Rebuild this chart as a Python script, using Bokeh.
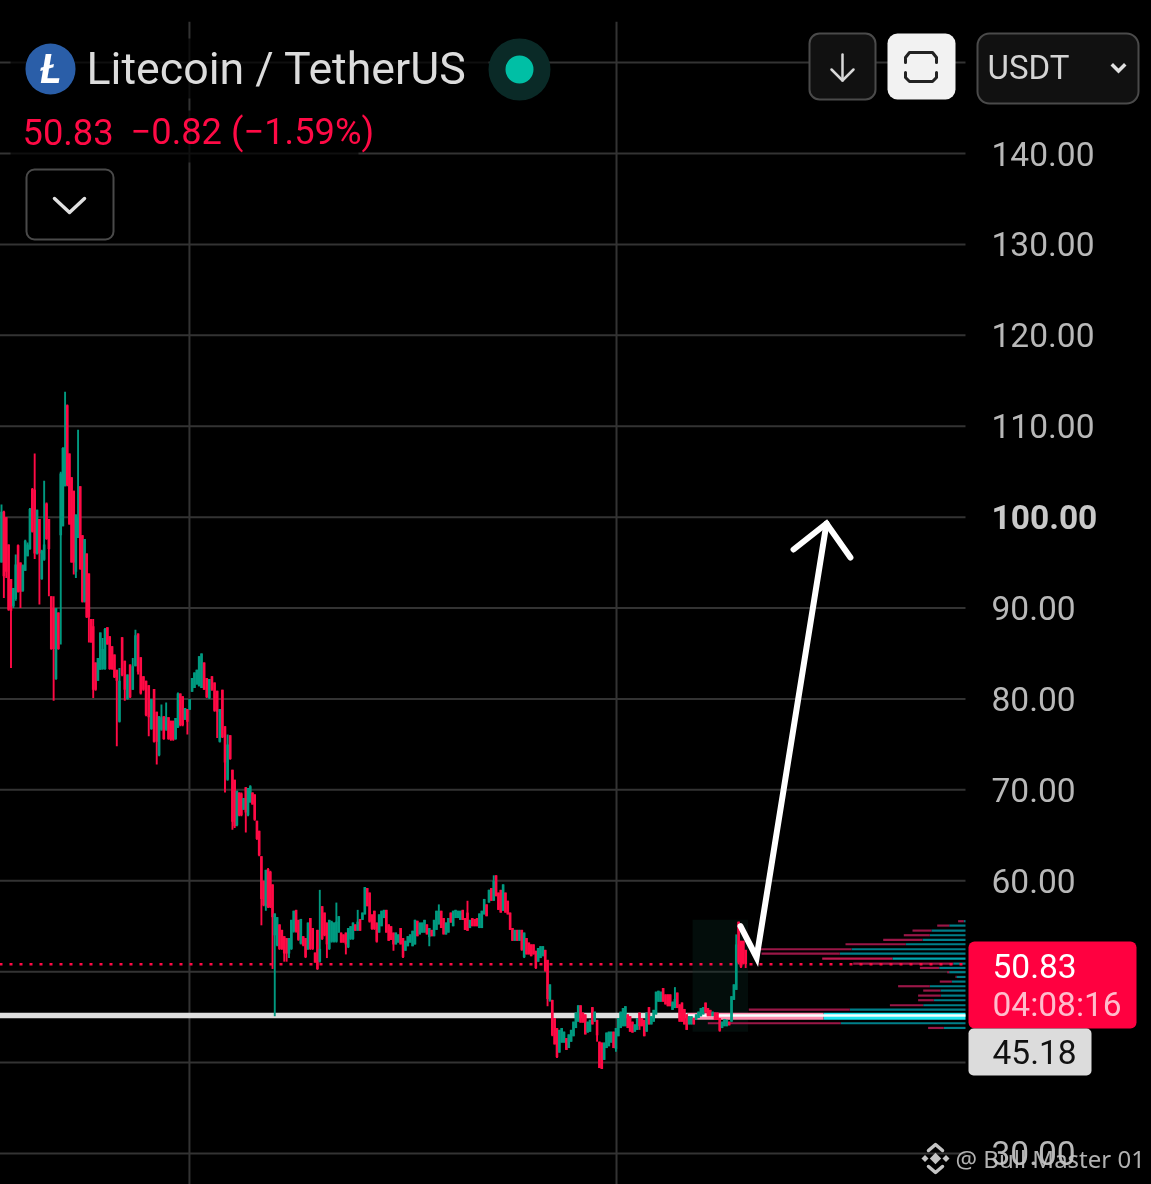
import numpy as np
from bokeh.core.properties import value
from bokeh.embed import file_html
from bokeh.resources import INLINE
from bokeh.plotting import figure
from bokeh.models import Range1d, Label, BoxAnnotation, PolyAnnotation

W, H = 1154, 1187

# ---- OHLC values (USDT) ----
high = [
101.4,100.7,100.0,97.0,93.2,92.2,95.9,97.0,95.0,94.8,
97.5,97.2,101.0,103.2,107.0,100.8,99.8,96.4,104.0,101.6,
99.8,91.3,91.3,90.0,89.5,105.0,107.7,113.8,112.4,107.0,
104.4,102.9,100.3,109.6,103.4,98.0,97.6,96.0,93.8,88.8,
88.8,84.0,84.5,87.3,86.7,87.8,87.9,86.9,85.8,84.9,
83.2,83.4,86.8,84.2,82.7,83.8,84.5,87.6,87.2,84.6,
82.5,82.0,81.5,80.0,81.1,78.6,78.1,79.4,78.1,79.6,
78.0,77.6,77.6,77.9,80.7,80.6,80.3,79.0,78.9,80.0,
82.3,82.9,83.2,84.7,85.0,84.0,82.3,82.2,82.5,81.8,
80.9,78.9,81.0,77.0,76.1,76.0,72.2,71.1,69.9,69.7,
69.7,69.1,70.3,70.2,70.5,69.7,69.5,66.6,65.5,62.7,
60.0,61.2,61.4,61.1,59.6,56.4,56.0,55.2,54.6,53.9,
53.7,53.7,55.7,56.7,56.8,55.7,55.8,53.9,53.7,55.4,
55.9,54.8,52.1,54.6,59.0,57.2,56.5,55.4,55.7,55.6,
55.4,57.6,56.1,54.3,54.1,54.3,54.8,55.0,55.4,55.2,
56.8,55.8,56.5,59.3,59.2,58.7,56.3,56.7,55.4,56.3,
56.7,56.8,56.8,55.2,55.0,54.3,54.3,54.1,54.8,53.7,
53.4,53.9,54.1,54.5,55.7,55.6,55.4,55.4,55.7,55.2,
54.8,54.6,55.7,56.7,57.4,56.7,55.9,55.4,55.9,56.5,
56.7,56.8,56.7,56.7,56.8,55.9,57.8,55.7,55.9,55.8,
55.9,56.4,56.7,58.0,57.4,59.0,59.2,60.6,60.6,58.7,
59.0,59.6,58.7,57.8,56.5,54.8,54.6,54.6,54.6,54.6,
54.3,53.7,53.2,53.0,53.0,52.3,52.6,52.8,52.8,52.4,51.3,
48.6,46.9,44.9,43.8,43.6,43.8,43.4,42.7,43.1,43.6,
44.5,45.5,46.3,46.3,45.5,45.3,44.5,44.7,46.1,45.6,
44.7,42.3,42.2,42.2,43.3,43.4,43.4,43.4,43.8,44.9,
45.6,46.0,46.2,45.3,45.1,44.5,44.2,44.9,45.5,44.9,
44.7,45.5,46.1,45.1,45.8,47.8,47.9,47.8,48.2,47.5,
47.5,47.5,46.7,48.3,47.7,46.4,46.6,45.9,45.3,45.1,
45.1,44.9,45.3,45.6,46.0,46.1,46.6,46.0,45.8,45.6,
45.5,45.5,44.9,44.5,44.8,44.7,44.5,47.3,48.6,54.1,55.5,53.4,53.4,52.4]
low = [
95.0,91.1,93.3,89.7,83.4,90.0,90.8,91.7,90.0,91.8,
94.1,95.7,96.4,98.3,95.4,95.9,90.4,93.1,95.2,97.5,
91.3,85.4,79.8,82.1,85.4,86.0,99.0,103.4,103.4,99.2,
95.0,93.7,93.3,97.7,94.2,90.6,90.6,88.9,86.2,86.2,
80.1,80.9,82.0,83.2,83.2,83.2,86.0,83.2,83.2,82.3,
74.8,77.4,82.5,79.8,79.9,80.1,81.0,83.6,82.7,80.5,
80.9,78.1,75.9,76.6,75.2,72.8,73.7,76.5,75.5,76.5,
75.5,75.4,75.4,75.5,76.8,77.0,77.0,77.7,76.1,78.8,
80.8,81.2,81.6,81.4,81.2,81.0,80.1,80.0,80.9,78.6,
75.7,75.2,75.7,69.7,71.0,73.3,65.6,65.8,66.0,67.1,
67.1,67.8,65.3,67.1,68.6,68.4,66.6,64.5,62.7,55.1,
57.2,56.7,57.0,57.0,50.3,45.1,52.8,52.4,52.4,51.1,
51.1,51.5,52.4,54.3,54.3,53.4,53.0,52.8,51.5,52.4,
52.4,52.4,51.0,50.2,51.0,53.5,53.9,51.5,52.4,53.2,
53.2,53.2,54.3,53.2,53.2,51.9,52.6,53.5,53.5,54.5,
54.5,54.5,55.7,56.3,57.2,55.4,54.6,54.6,53.2,54.3,
55.0,55.9,54.3,53.4,53.5,52.3,53.0,53.2,53.0,51.5,
52.3,52.8,53.2,52.8,53.0,53.9,54.1,54.3,54.3,54.1,
52.8,53.9,53.9,54.6,55.2,54.8,54.1,54.1,54.3,55.4,
55.0,55.9,55.9,55.7,55.7,54.6,54.5,54.8,55.0,55.0,
55.0,54.8,54.8,56.3,56.1,57.6,57.8,57.8,58.3,56.8,
56.5,56.7,56.5,56.3,54.6,53.4,53.4,53.4,53.4,52.3,
51.5,51.9,51.9,51.7,51.9,50.3,51.1,51.5,51.7,50.0,46.2,
46.7,42.9,42.0,40.5,41.1,42.2,42.2,41.4,41.6,42.3,
42.9,43.8,44.5,44.4,44.4,43.1,43.3,43.4,44.2,44.5,
42.3,39.4,39.3,40.3,41.6,41.8,42.2,41.6,41.2,42.9,
43.8,44.0,44.0,43.8,43.4,43.3,43.4,43.6,43.6,44.0,
42.9,43.4,44.2,44.2,44.5,45.3,46.7,46.7,46.7,46.4,
46.2,46.2,45.8,46.0,46.0,44.5,44.5,44.2,43.6,44.2,
44.2,44.2,44.7,44.9,45.1,45.3,45.5,45.1,45.1,45.1,
44.7,44.7,43.4,43.8,44.0,44.0,44.1,44.5,46.9,48.0,50.8,50.4,50.8,50.4]
open_ = [
95.0,100.6,100.0,97.0,93.2,90.2,91.0,96.9,95.0,91.9,
94.1,95.7,96.5,103.1,103.0,96.0,99.8,93.2,95.3,101.5,
99.8,91.3,90.0,82.2,89.5,98.0,99.0,103.4,112.3,107.0,
104.4,102.9,94.0,97.7,103.4,98.0,90.7,96.0,93.8,88.8,
88.0,84.0,82.0,83.2,83.3,83.3,87.9,86.9,85.8,84.9,
83.2,77.5,86.8,84.2,80.0,83.8,81.0,83.6,87.2,84.6,
82.5,82.0,81.5,76.7,81.1,78.6,73.8,76.6,78.1,76.6,
78.0,77.6,77.6,75.6,76.9,80.6,80.3,77.7,78.9,78.8,
80.8,81.2,81.6,81.4,81.2,84.0,82.3,80.1,82.5,81.8,
80.9,75.3,81.0,77.0,71.1,76.0,72.2,71.1,66.1,69.7,
69.6,67.8,70.3,67.2,68.6,69.7,69.5,66.6,65.5,62.7,
60.0,57.2,61.3,61.0,59.6,54.0,52.9,55.2,54.6,53.9,
53.7,52.0,52.5,54.4,56.8,55.7,53.1,53.9,53.7,52.5,
55.9,54.8,52.1,54.6,51.1,57.2,56.5,55.4,52.5,53.3,
53.3,53.3,54.3,54.3,54.1,54.3,52.7,53.6,53.6,55.2,
54.5,55.8,55.7,56.3,59.2,58.7,56.3,56.7,55.4,54.3,
55.0,55.9,56.8,55.2,55.0,54.3,53.0,53.2,54.8,53.7,
52.3,52.8,53.2,52.8,53.0,55.6,54.1,54.3,54.3,55.2,
53.8,54.6,53.9,54.6,55.2,56.7,55.9,54.1,54.3,56.5,
55.0,55.9,55.9,55.7,56.8,55.9,56.5,54.8,55.9,55.8,
55.9,54.8,54.8,56.3,57.4,57.6,59.2,57.8,60.6,58.7,
59.0,56.7,58.7,57.8,56.5,54.8,53.4,54.6,53.4,54.6,
51.6,53.7,53.2,53.0,53.0,52.3,51.1,51.5,51.7,52.4,51.3,
46.8,46.9,44.9,43.8,41.1,42.2,42.2,42.7,41.6,42.3,
42.9,43.8,44.5,46.3,45.5,45.3,43.3,43.4,46.1,44.5,
44.7,42.3,42.2,40.3,41.6,41.8,42.2,43.4,41.5,42.9,
43.8,44.0,44.0,45.3,45.1,44.5,43.4,43.6,45.5,44.9,
44.7,43.4,46.1,44.2,44.5,45.3,46.7,46.7,48.2,47.5,
47.5,47.5,45.8,46.0,47.7,46.4,46.6,45.9,45.3,44.2,
44.2,44.9,44.7,44.9,45.1,45.3,46.6,46.0,45.8,45.1,
45.5,45.5,44.9,43.8,44.0,44.0,44.5,44.5,46.9,48.0,55.5,53.4,53.4,52.4]
close = [
100.6,93.5,94.0,89.8,89.7,92.2,94.8,91.8,91.8,94.7,
97.4,97.0,100.9,98.4,96.0,100.8,96.0,96.3,97.0,97.6,
96.5,85.5,85.5,90.0,85.5,104.8,107.6,107.7,103.5,99.2,
95.0,95.0,100.3,100.0,94.3,90.7,97.6,89.0,89.0,86.2,
81.0,81.0,84.5,87.3,85.5,87.7,86.0,83.3,83.3,82.4,
82.0,82.0,82.6,81.0,82.7,80.2,83.6,87.0,83.0,80.6,
81.0,78.2,78.0,80.0,75.3,75.3,78.1,78.0,75.6,78.0,
75.6,75.5,75.5,77.9,80.6,77.1,77.1,79.0,77.5,80.0,
82.3,82.9,83.2,84.7,85.0,81.0,80.2,82.2,81.0,78.7,
78.6,78.9,75.8,73.0,75.0,73.4,66.5,66.0,69.9,67.2,
67.2,69.1,67.5,70.2,70.4,68.4,66.7,64.6,62.8,58.0,
57.3,61.2,57.1,57.1,56.0,56.4,56.0,52.5,52.5,52.0,
52.0,53.7,55.7,56.7,54.4,53.5,55.8,52.9,51.6,55.4,
52.5,52.5,51.0,50.3,52.5,53.6,54.0,53.0,55.7,55.5,
55.4,55.5,56.1,53.2,53.2,53.0,54.8,55.0,55.4,54.5,
55.5,54.5,56.5,59.3,57.2,55.5,54.7,54.7,53.3,56.3,
56.7,56.8,54.3,53.4,53.5,53.0,54.3,54.1,53.0,51.6,
53.4,53.9,54.1,54.5,55.7,53.9,55.4,55.4,55.7,54.1,
54.8,53.9,55.7,56.7,56.7,54.8,54.1,55.4,55.9,55.4,
56.7,56.8,56.7,56.7,55.7,54.6,54.5,55.7,55.0,55.0,
55.0,56.4,56.7,58.0,56.1,59.0,57.8,60.0,58.3,56.8,
56.5,59.6,56.5,56.3,54.6,53.4,54.6,53.4,54.6,52.4,
54.3,51.9,51.9,51.7,51.9,50.4,52.6,52.8,52.8,50.1,47.0,
48.6,43.0,42.0,40.6,43.6,43.8,43.4,41.4,43.1,43.6,
44.5,45.5,46.3,44.4,44.4,43.1,44.5,44.7,44.2,45.6,
43.0,39.4,39.3,42.2,43.3,43.4,43.4,41.6,43.8,44.9,
45.6,46.0,46.2,43.8,43.4,43.3,44.2,44.9,44.0,44.0,
42.9,45.5,44.2,45.1,45.8,47.8,47.9,47.8,46.7,46.4,
46.2,46.2,46.7,47.0,46.0,44.5,44.5,44.2,43.6,45.1,
45.1,44.2,45.3,45.6,46.0,46.1,45.5,45.1,45.1,45.6,
44.7,44.7,43.5,44.5,44.8,44.7,44.1,47.3,48.6,53.0,51.0,50.5,50.9,50.83]

# horizontal position of the bars: bar number -> place on the time scale
time_anchor_bar = [1, 26, 41, 51, 66, 85, 96, 116, 154, 208, 231, 315]
time_anchor_pos = [1, 26, 39.7, 49.65, 66.5, 85.4, 97.5, 116.3, 154.3, 208.7, 231.4, 315]

# ---- volume profile ----
vp_price = [55.55,55.07,54.52,54.01,53.49,53.02,52.47,51.99,51.44,50.89,50.41,49.94,
            49.42,48.91,48.40,47.92,47.37,46.86,46.31,45.83,45.10,44.33,43.81]
vp_up = [1.7,16.3,34,35.7,43,59.7,114,125.7,73,12.3,26.3,16.3,
         9,13.7,35.7,25,24.7,31.7,42.3,115.7,142,124.7,21.7]
vp_down = [5.7,12,19,26,39.3,60.3,93.3,78.3,70.3,100,19.3,2,
           1,12,31.7,17.3,22.7,15.7,33.3,101,136,133,15.7]

# ---- levels and labels ----
price_ticks = [30, 40, 50, 60, 70, 80, 90, 100, 110, 120, 130, 140]
grid_levels = price_ticks + [150]
bold_tick = 100
last_price = 50.83
support = 45.18
vline_bars = [80.3, 260.5]
range_box_bars = (292.6, 316.0)
range_box_prices = (43.4, 55.7)
arrow_bars = [312.8, 319.6, 349.1]
arrow_prices = [55.0, 51.56, 99.3]
head_bars = [335.2, 349.1, 359.2]
head_prices = [96.44, 99.3, 95.56]

RED = "#ff0a45"
GREEN = "#009a80"
GRID = "#333333"
FRAME_R = 966

x0 = 1 - 2 / 2.37
x1 = x0 + W / 2.37
y_top = 140 + 154 / 9.0909
y_bot = 140 - (H - 154) / 9.0909


def cx(x):
    return x0 + x / 2.37


def cy(y):
    return y_top - y / 9.0909


x_edge = cx(FRAME_R)

p = figure(width=W, height=H, x_range=Range1d(x0, x1), y_range=Range1d(y_bot, y_top),
           x_axis_type=None, y_axis_type=None, output_backend="svg", toolbar_location=None,
           background_fill_color="#000000", border_fill_color="#000000",
           min_border_left=0, min_border_top=0, min_border_bottom=0, min_border_right=0)
p.outline_line_color = None
p.styles = {"position": "fixed", "left": "-1px", "top": "-1px"}
p.grid.visible = False
p.extra_x_ranges = {"vol": Range1d(FRAME_R, FRAME_R - W)}

p.segment(x0=[x0] * len(grid_levels), x1=[x_edge] * len(grid_levels), y0=grid_levels, y1=grid_levels,
          line_color=GRID, line_width=2)
p.segment(x0=vline_bars, x1=vline_bars, y0=[154.5] * 2, y1=[y_bot] * 2, line_color=GRID, line_width=2)

# price-scale labels
regular = [t for t in price_ticks if t != bold_tick]
p.text(x=[cx(992)] * len(regular), y=regular, text=[f"{t:.2f}" for t in regular],
       text_font=value("Roboto"), text_font_size="33.5px", text_color="#b8b8b8",
       text_baseline="middle", text_align="left")
p.text(x=[cx(992)], y=[bold_tick], text=[f"{bold_tick:.2f}"], text_font=value("Roboto"),
       text_font_size="33.5px", text_font_style="bold", text_color="#c8c8c8",
       text_baseline="middle", text_align="left")

# volume-profile range shading
p.quad(left=[range_box_bars[0]], right=[range_box_bars[1]], bottom=[range_box_prices[0]],
       top=[range_box_prices[1]], fill_color="#0b2a26", fill_alpha=0.3, line_color=None)

# volume profile
poc = max(range(len(vp_up)), key=lambda k: vp_up[k] + vp_down[k])
vp_left = vp_up
vp_right = [u + d for u, d in zip(vp_up, vp_down)]
up_col = ["#1fe6f0" if k == poc else ("#00a3ad" if vp_price[k] == 51.44 else "#007f8a") for k in range(len(vp_up))]
dn_col = ["#ff8fb0" if k == poc else ("#c01a50" if vp_price[k] == 51.44 else "#9a1747") for k in range(len(vp_up))]
hts = [0.75 if k == poc else 0.24 for k in range(len(vp_up))]
p.hbar(y=vp_price, left=[0] * len(vp_up), right=vp_up, height=hts, fill_color=up_col, line_color=None, x_range_name="vol")
p.hbar(y=vp_price, left=vp_left, right=vp_right, height=hts, fill_color=dn_col, line_color=None, x_range_name="vol")

# support line: solid up to the profile, a thin bright core through it
p.line([x0, 290.5], [support, support], line_color="#dedede", line_width=5.5)
p.line([290.5, x_edge], [support, support], line_color="#f4ffff", line_width=2.5)
# last-price line
p.line([x0, x_edge], [last_price, last_price], line_color=RED, line_width=2.5, line_dash="3 7")

# candles
bars = np.interp(np.arange(1, len(close) + 1), time_anchor_bar, time_anchor_pos)
cols = [GREEN if c >= o else RED for o, c in zip(open_, close)]
p.segment(x0=bars, x1=bars, y0=low, y1=high, line_color=cols, line_width=1.9)
p.vbar(x=bars, width=1.1, bottom=[min(a, b) for a, b in zip(open_, close)],
       top=[max(a, b) for a, b in zip(open_, close)], fill_color=cols, line_color=None)

# hand-drawn arrow
p.line(arrow_bars, arrow_prices, line_color="#ffffff", line_width=6, line_join="miter", line_cap="round")
p.line(head_bars, head_prices, line_color="#ffffff", line_width=6, line_join="miter", line_cap="round")


# ---- interface furniture, in page pixels ----
def box(l, t, r, b, fill, line=None, lw=2, radius=0, alpha=1.0):
    p.add_layout(BoxAnnotation(left=l, right=r, top=H - t, bottom=H - b,
                               left_units="screen", right_units="screen", top_units="screen", bottom_units="screen",
                               fill_color=fill, fill_alpha=alpha, line_color=line, line_width=lw,
                               line_alpha=1.0 if line else 0.0, border_radius=radius, level="annotation"))


def label(x, y, text, size, color, font="Roboto", style="normal", align="left", alpha=1.0):
    p.add_layout(Label(x=x, y=H - y, x_units="screen", y_units="screen", text=text, text_font=font,
                       text_font_size=f"{size}px", text_color=color, text_font_style=style, text_align=align,
                       text_baseline="middle", text_alpha=alpha))


def icon(pts, color, lw):
    p.line([cx(a) for a, b in pts], [cy(b) for a, b in pts], line_color=color, line_width=lw,
           line_join="round", line_cap="round", level="overlay")


box(11, 39, 489, 99, "#000000", alpha=0.7)
box(11, 111, 359, 163, "#000000", alpha=0.7)

# title row
box(26, 44, 76, 95, "#2a5ea8", radius=25)
label(51, 70, "Ł", 40, "#ffffff", style="bold italic", align="center")
label(87, 69, "Litecoin / TetherUS", 44.7, "#dcdcdc")
box(489, 39, 551, 101, "#0a2a27", radius=31)
box(506, 56, 534, 84, "#00bfa5", radius=14)
label(23, 132, "50.83", 36.3, RED)
label(131, 132, "\u22120.82 (\u22121.59%)", 36.3, RED)

# collapse button
box(27, 170, 114, 240, "#000000", "#4a4a4a", 2, 8)
icon([(55, 199), (70, 213), (85, 199)], "#e0e0e0", 3.5)

# top-right buttons
box(810, 34, 876, 100, "#111111", "#4a4a4a", 2, 10)
icon([(843, 55), (843, 81)], "#d8d8d8", 2.5)
icon([(832, 70), (843, 81), (854, 70)], "#d8d8d8", 2.5)
box(888, 34, 956, 100, "#f2f2f2", None, 0, 10)
icon([(906, 63), (906, 58), (910, 53), (933, 53), (937, 58), (937, 63)], "#222222", 3)
icon([(906, 73), (906, 78), (910, 82), (933, 82), (937, 78), (937, 73)], "#222222", 3)
box(978, 34, 1139, 104, "#111111", "#4a4a4a", 2, 12)
label(988, 68, "USDT", 33, "#d4d4d4")
p.add_layout(PolyAnnotation(xs=[1111, 1113.5, 1119, 1124.5, 1127, 1119],
                            ys=[H - 66, H - 63.5, H - 69, H - 63.5, H - 66, H - 74],
                            xs_units="screen", ys_units="screen",
                            fill_color="#e0e0e0", fill_alpha=1.0, line_color=None))

# price tags
box(969, 942, 1137, 1029, "#ff0040", radius=6)
label(993, 966, "50.83", 33.5, "#ffffff")
label(993, 1005, "04:08:16", 33.5, "#ffbccc")
box(969, 1029, 1092, 1076, "#dcdcdc", radius=5)
label(993, 1052, "45.18", 33.5, "#111111")

# watermark
label(956, 1159, "@ Bull Master 01", 24, "#c4c4c4", font="Noto Sans", alpha=0.9)
p.scatter([cx(936), cx(925.5), cx(946.5)], [cy(1159)] * 3, marker="square", angle=0.785, size=[8, 5, 5],
          fill_color="#c4c4c4", line_color=None, level="overlay")
icon([(929, 1151), (936, 1145), (943, 1151)], "#c4c4c4", 3.5)
icon([(929, 1167), (936, 1173), (943, 1167)], "#c4c4c4", 3.5)

assert len(high) == len(low) == len(open_) == len(close)
open("out.html", "w").write(file_html(p, INLINE))
